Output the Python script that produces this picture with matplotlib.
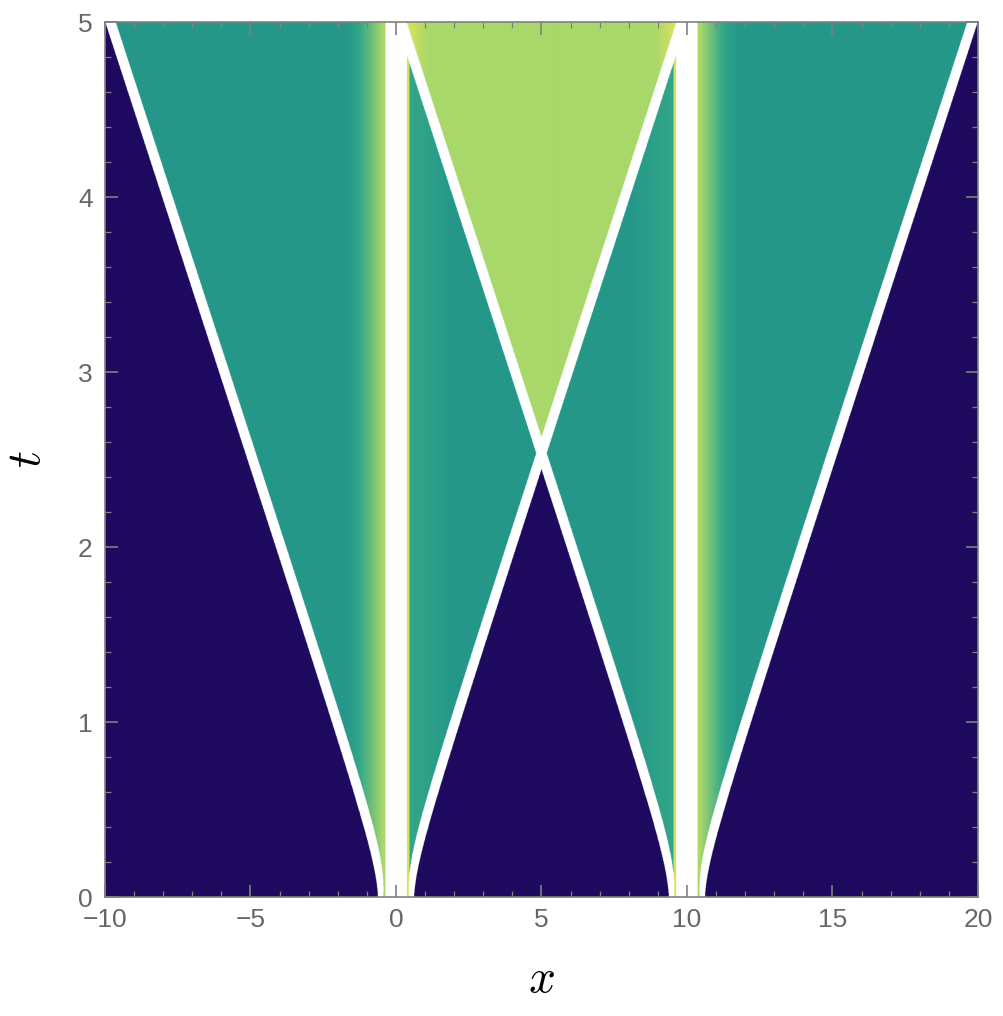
import numpy as np
import matplotlib.pyplot as plt
from matplotlib.colors import LinearSegmentedColormap
from matplotlib.ticker import MultipleLocator

plt.rcParams['mathtext.fontset'] = 'cm'

# ---- chart values ----
centers = [0.0, 10.0]        # centres of the two sources (white bars)
half_width0 = 0.53           # cone half-width at t = 0
speed = 1.96                 # opening speed of the cones
bar_half = 0.37              # half-width of the white vertical bars
line_half = [0.09, 0.18]     # half-width of white boundary lines (t=0, large t)
levels = [0.0, 0.5, 0.8]     # outside / inside one cone / inside both
x_range = [-10, 20]
t_range = [0, 5]

cmap = LinearSegmentedColormap.from_list(
    'mma', [(0.0, '#1e0a5f'), (0.5, '#25978a'), (0.6, '#34a888'),
            (0.8, '#a9d86a'), (1.0, '#dde35a')])
cmap.set_bad('white')

xs = np.linspace(x_range[0], x_range[1], 2400)
ts = np.linspace(t_range[0], t_range[1], 1400)
X, T = np.meshgrid(xs, ts)

R = np.sqrt(half_width0**2 + (speed * T)**2)
inside = [np.abs(X - c) < R for c in centers]
count = inside[0].astype(int) + inside[1].astype(int)
field = np.choose(count, levels).astype(float)

# brighter strips along the bars
c1, c2 = centers
d_outer1 = (c1 - bar_half) - X          # left of bar 1
d_inner1 = X - (c1 + bar_half)          # right of bar 1
d_inner2 = (c2 - bar_half) - X          # left of bar 2
d_outer2 = X - (c2 + bar_half)          # right of bar 2

one = count == 1
two = count == 2
for d in (d_outer1, d_outer2):
    m = one & (d > 0) & (d < 1.4)
    field[m] += 0.32 * (1 - d[m] / 1.4) ** 1.2
for d in (d_inner1, d_inner2):
    m = one & (d > 0) & (d < 1.6)
    field[m] += 0.1 * (1 - d[m] / 1.6)
    m = one & (d > 0) & (d < 0.09)
    field[m] = 0.97
    m = two & (d > 0) & (d < 0.7)
    field[m] += 0.2 * (1 - d[m] / 0.7)
field = np.clip(field, 0, 1)

# white exclusions: bars and cone boundaries
lw = line_half[0] + (line_half[1] - line_half[0]) * (speed * T / R)
for c in centers:
    field[np.abs(X - c) < bar_half] = np.nan
    field[np.abs(np.abs(X - c) - R) < lw] = np.nan

fig = plt.figure(figsize=(10.04, 10.16), dpi=100)
ax = fig.add_axes([0.1046, 0.1171, 0.8694, 0.8612])
ax.imshow(np.ma.masked_invalid(field), cmap=cmap, vmin=0, vmax=1,
          origin='lower', aspect='auto',
          extent=[x_range[0], x_range[1], t_range[0], t_range[1]],
          interpolation='antialiased')
ax.set_xlim(x_range)
ax.set_ylim(t_range)

ax.xaxis.set_major_locator(MultipleLocator(5))
ax.xaxis.set_minor_locator(MultipleLocator(1))
ax.yaxis.set_major_locator(MultipleLocator(1))
ax.yaxis.set_minor_locator(MultipleLocator(0.2))
ax.tick_params(which='both', direction='in', top=True, right=True,
               color='#808080', labelcolor='#666666', labelsize=19)
ax.tick_params(which='major', length=9, width=1.2)
ax.tick_params(axis='x', which='major', pad=8)
ax.tick_params(axis='y', which='major', pad=9)
ax.tick_params(which='minor', length=4.5, width=0.9)
for lab in ax.get_xticklabels() + ax.get_yticklabels():
    lab.set_family('Liberation Sans')
for sp in ax.spines.values():
    sp.set_color('#808080')
    sp.set_linewidth(1.2)

ax.set_xlabel('$x$', fontsize=34, labelpad=18)
ax.set_ylabel('$t$', fontsize=34, labelpad=20)

fig.savefig('out.png', dpi=100)
